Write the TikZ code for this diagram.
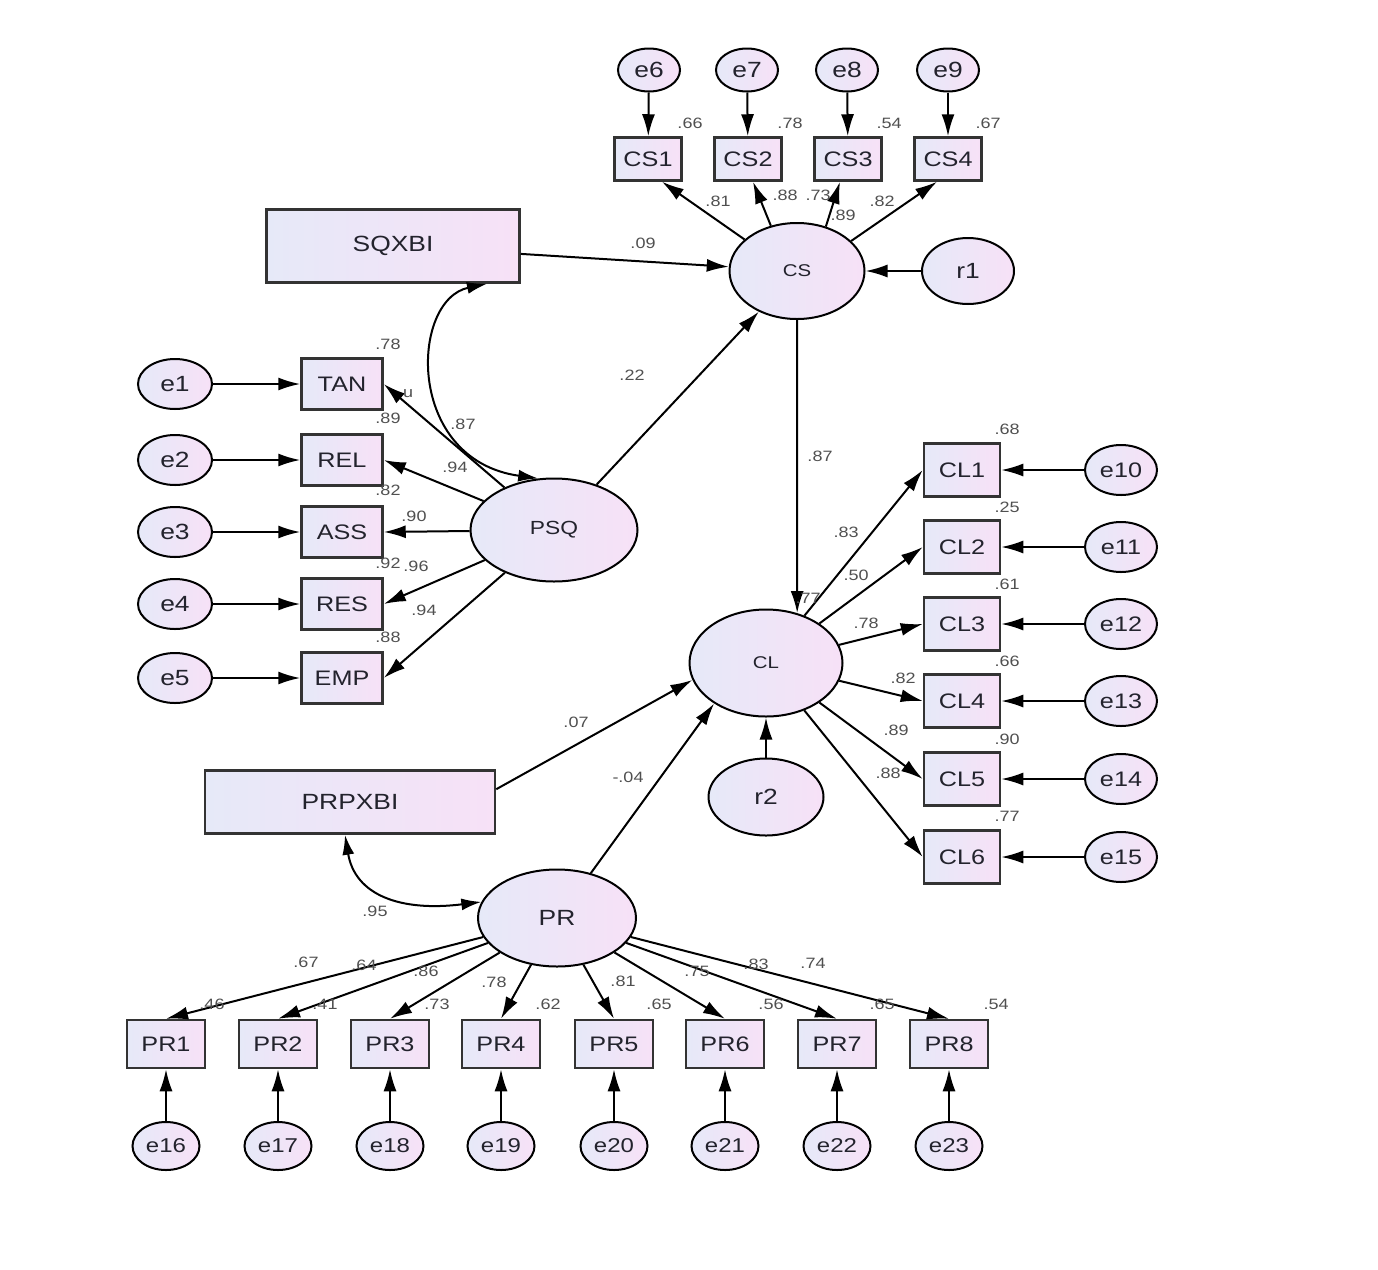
\documentclass[tikz,border=0pt]{standalone}
\usepackage{fontspec}
\setmainfont[FakeStretch=1.2]{Liberation Sans}
\usetikzlibrary{arrows.meta,shapes.geometric}
\definecolor{lavL}{RGB}{230,233,248}
\definecolor{lavR}{RGB}{247,225,247}
\definecolor{lbl}{RGB}{80,80,80}
\definecolor{txt}{RGB}{35,35,45}
\tikzset{
 obs/.style={rectangle, draw=black!80, line width=2.5pt, left color=lavL, right color=lavR, inner sep=0pt, text=txt, font=\fontsize{21}{23}\selectfont},
 lat/.style={ellipse, draw=black, line width=2pt, left color=lavL, right color=lavR, inner sep=0pt, text=txt},
 err/.style={lat, font=\fontsize{22}{24}\selectfont, minimum width=#1},
 err/.default=72pt,
 arr/.style={-{Latex[length=22pt,width=13pt]}, line width=2pt},
 dbl/.style={{Latex[length=20pt,width=12pt]}-{Latex[length=20pt,width=12pt]}, line width=2pt},
 lab/.style={text=lbl, font=\fontsize{15}{17}\selectfont, inner sep=0pt},
}
\begin{document}
\begin{tikzpicture}[x=1pt,y=-1pt]
\useasboundingbox[fill=white] (0,0) rectangle (1378,1269);

% ---- CS block ----
\foreach \i/\x in {6/649,7/747,8/847,9/948}{
  \node[err=62pt, minimum height=43pt] (e\i) at (\x,70) {e\i};
}
\foreach \i/\x in {1/648,2/748,3/848,4/948}{
  \node[obs, minimum width=67pt, minimum height=43pt] (cs\i) at (\x,159) {CS\i};
}
\foreach \i in {6,7,8,9}{ \pgfmathtruncatemacro{\j}{\i-5} \draw[arr] (e\i) -- (cs\j); }
\node[lat, minimum width=135pt, minimum height=96pt, font=\fontsize{17}{19}\selectfont] (cs) at (797,271) {CS};
\node[err=92pt, minimum height=66pt] (r1) at (968,271) {r1};
\draw[arr] (r1) -- (cs);
\draw[arr] (cs.149) -- ([xshift=14pt]cs1.south);
\draw[arr] (cs.120) -- ([xshift=5pt]cs2.south);
\draw[arr] (cs.57) -- ([xshift=-8pt]cs3.south);
\draw[arr] (cs.29) -- ([xshift=-11pt]cs4.south);

\node[obs, minimum width=253pt, minimum height=73pt, font=\fontsize{22}{24}\selectfont] (sqxbi) at (393,246) {SQXBI};
\draw[arr] (sqxbi) -- (cs);

% ---- PSQ block ----
\node[lat, minimum width=167pt, minimum height=103pt, font=\fontsize{19}{21}\selectfont] (psq) at (554,530) {PSQ};
\foreach \n/\y/\e in {TAN/384/1,REL/460/2,ASS/532/3,RES/604/4,EMP/678/5}{
  \node[obs, minimum width=81pt, minimum height=51pt] (\n) at (342,\y) {\n};
  \node[err=74pt, minimum height=50pt] (e\e) at (175,\y) {e\e};
  \draw[arr] (e\e) -- (\n);
  \draw[arr] (psq) -- (\n.east);
}
\draw[arr] (psq) -- (cs);
\draw[dbl] ([xshift=94pt]sqxbi.south) .. controls (410,300) and (405,460) .. (psq.107);

% ---- CL block ----
\node[lat, minimum width=153pt, minimum height=107pt, font=\fontsize{17}{19}\selectfont] (cl) at (766,663) {CL};
\node[err=115pt, minimum height=77pt] (r2) at (766,797) {r2};
\draw[arr] (r2) -- (cl);
\draw[arr] (cs.south) -- (cl.58);
\foreach \i/\y in {1/470,2/547,3/624,4/701,5/779,6/857}{
  \pgfmathtruncatemacro{\k}{\i+9}
  \node[obs, minimum width=76pt, minimum height=53pt] (cl\i) at (962,\y) {CL\i};
  \node[err=72pt, minimum height=50pt, font=\fontsize{21}{23}\selectfont] (e\k) at (1121,\y) {e\k};
  \draw[arr] (e\k) -- (cl\i);
  \draw[arr] (cl) -- (cl\i.west);
}

% ---- PR block ----
\node[obs, minimum width=290pt, minimum height=63pt, font=\fontsize{22}{24}\selectfont] (prpxbi) at (350,802) {PRPXBI};
\node[lat, minimum width=158pt, minimum height=97pt, font=\fontsize{22}{24}\selectfont] (pr) at (557,918) {PR};
\draw[arr] (prpxbi.5) -- (cl.193);
\draw[arr] (pr.53) -- (cl.218);
\draw[dbl] ([xshift=-5pt]prpxbi.south) .. controls (355,895) and (400,912) .. (pr.168);
\foreach \i/\x in {1/166,2/278,3/390,4/501,5/614,6/725,7/837,8/949}{
  \pgfmathtruncatemacro{\k}{\i+15}
  \node[obs, minimum width=78pt, minimum height=48pt] (pr\i) at (\x,1044) {PR\i};
  \node[err=67pt, minimum height=48pt, font=\fontsize{20}{22}\selectfont] (e\k) at (\x,1146) {e\k};
  \draw[arr] (e\k) -- (pr\i);
  \draw[arr] (pr) -- (pr\i.north);
}

% ---- labels ----
\foreach \t/\x/\y in {.66/690/123,.78/790/123,.54/889/123,.67/988/123,
  .81/718/201,.88/785/195,.73/818/195,.89/843/215,.82/882/201,
  .09/643/243,.22/632/375,
  .78/388/344,.89/388/418,.82/388/490,.92/388/563,.88/388/637,
  u/408/394,.87/463/424,.94/455/467,.90/414/516,.96/416/566,.94/424/610,
  .87/820/456,.77/808/598,
  .68/1007/429,.25/1007/507,.61/1007/584,.66/1007/661,.90/1007/739,.77/1007/816,
  .83/846/532,.50/856/575,.78/866/623,.82/903/678,.89/896/730,.88/888/773,
  .07/576/722,-.04/628/777,.95/375/911,
  .67/306/962,.64/364/965,.86/426/971,.78/494/982,.81/623/981,.75/697/971,.83/756/964,.74/813/963,
  .46/212/1004,.41/325/1004,.73/437/1004,.62/548/1004,.65/659/1004,.56/771/1004,.65/882/1004,.54/996/1004}{
  \node[lab] at (\x,\y) {\t};
}
\end{tikzpicture}
\end{document}
